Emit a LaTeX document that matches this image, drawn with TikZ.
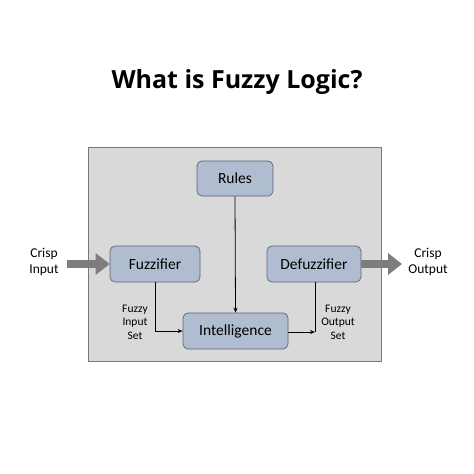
\documentclass[tikz,border=0pt]{standalone}
\usepackage{fontspec}
\setmainfont{Carlito}
\newfontfamily\titlefont{Open Sans}
\usetikzlibrary{arrows.meta,positioning}
\definecolor{flgray}{RGB}{217,217,217}
\definecolor{flframe}{RGB}{120,120,120}
\definecolor{flblue}{RGB}{176,188,207}
\definecolor{flborder}{RGB}{90,100,118}
\definecolor{flarrow}{RGB}{125,125,125}
\tikzset{
  block/.style={draw=flborder, fill=flblue, rounded corners=5pt, line width=0.7pt, font=\fontsize{15.5}{18}\selectfont, inner sep=0pt},
  flow/.style={draw=black, line width=0.8pt, -{Stealth[length=5pt,width=4pt]}},
  fat/.style={draw=flarrow, line width=8pt, -{Triangle[length=14pt,width=21pt]}},
  side/.style={font=\fontsize{13.5}{16}\selectfont, align=center},
  setlabel/.style={font=\fontsize{11.5}{13.5}\selectfont, align=center}
}
\begin{document}
\begin{tikzpicture}[x=1pt,y=-1pt]
  \useasboundingbox (0,0) rectangle (474,474);
  % Title
  \node[font=\titlefont\bfseries\fontsize{25}{30}\selectfont] (title) at (237,82) {What is Fuzzy Logic?};

  % Frame
  \draw[flframe, fill=flgray, line width=0.8pt] (88,147) rectangle (381,361);

  % Blocks
  \node[block, minimum width=76pt, minimum height=35pt] (rules) at (235,178.5) {Rules};
  \node[block, minimum width=90pt, minimum height=36pt] (fuzz) at (155,264) {Fuzzifier};
  \node[block, minimum width=94pt, minimum height=36pt] (defuzz) at (314,264) {Defuzzifier};
  \node[block, minimum width=105pt, minimum height=36pt] (intel) at (235.5,331) {Intelligence};

  % Connectors
  \coordinate (join) at (315,332);
  \draw[flow] (rules.south) -- (intel.north);
  \draw[flow] (fuzz.south) |- (intel.west);
  \draw[line width=0.8pt] (defuzz.south -| join) -- (join);
  \draw[flow] (intel.east |- join) -- (join);

  \node[setlabel] (fin) at (135,322) {Fuzzy\\Input\\Set};
  \node[setlabel] (fout) at (338,322) {Fuzzy\\Output\\Set};

  % Crisp in / out
  \node[side] (cin) at (44,262) {Crisp\\Input};
  \node[side] (cout) at (428,262) {Crisp\\Output};
  \coordinate (inend) at (67,264);
  \draw[fat] (inend) -- (fuzz.west);
  \coordinate (outend) at (402,264);
  \draw[fat] (defuzz.east) -- (outend);
\end{tikzpicture}
\end{document}
